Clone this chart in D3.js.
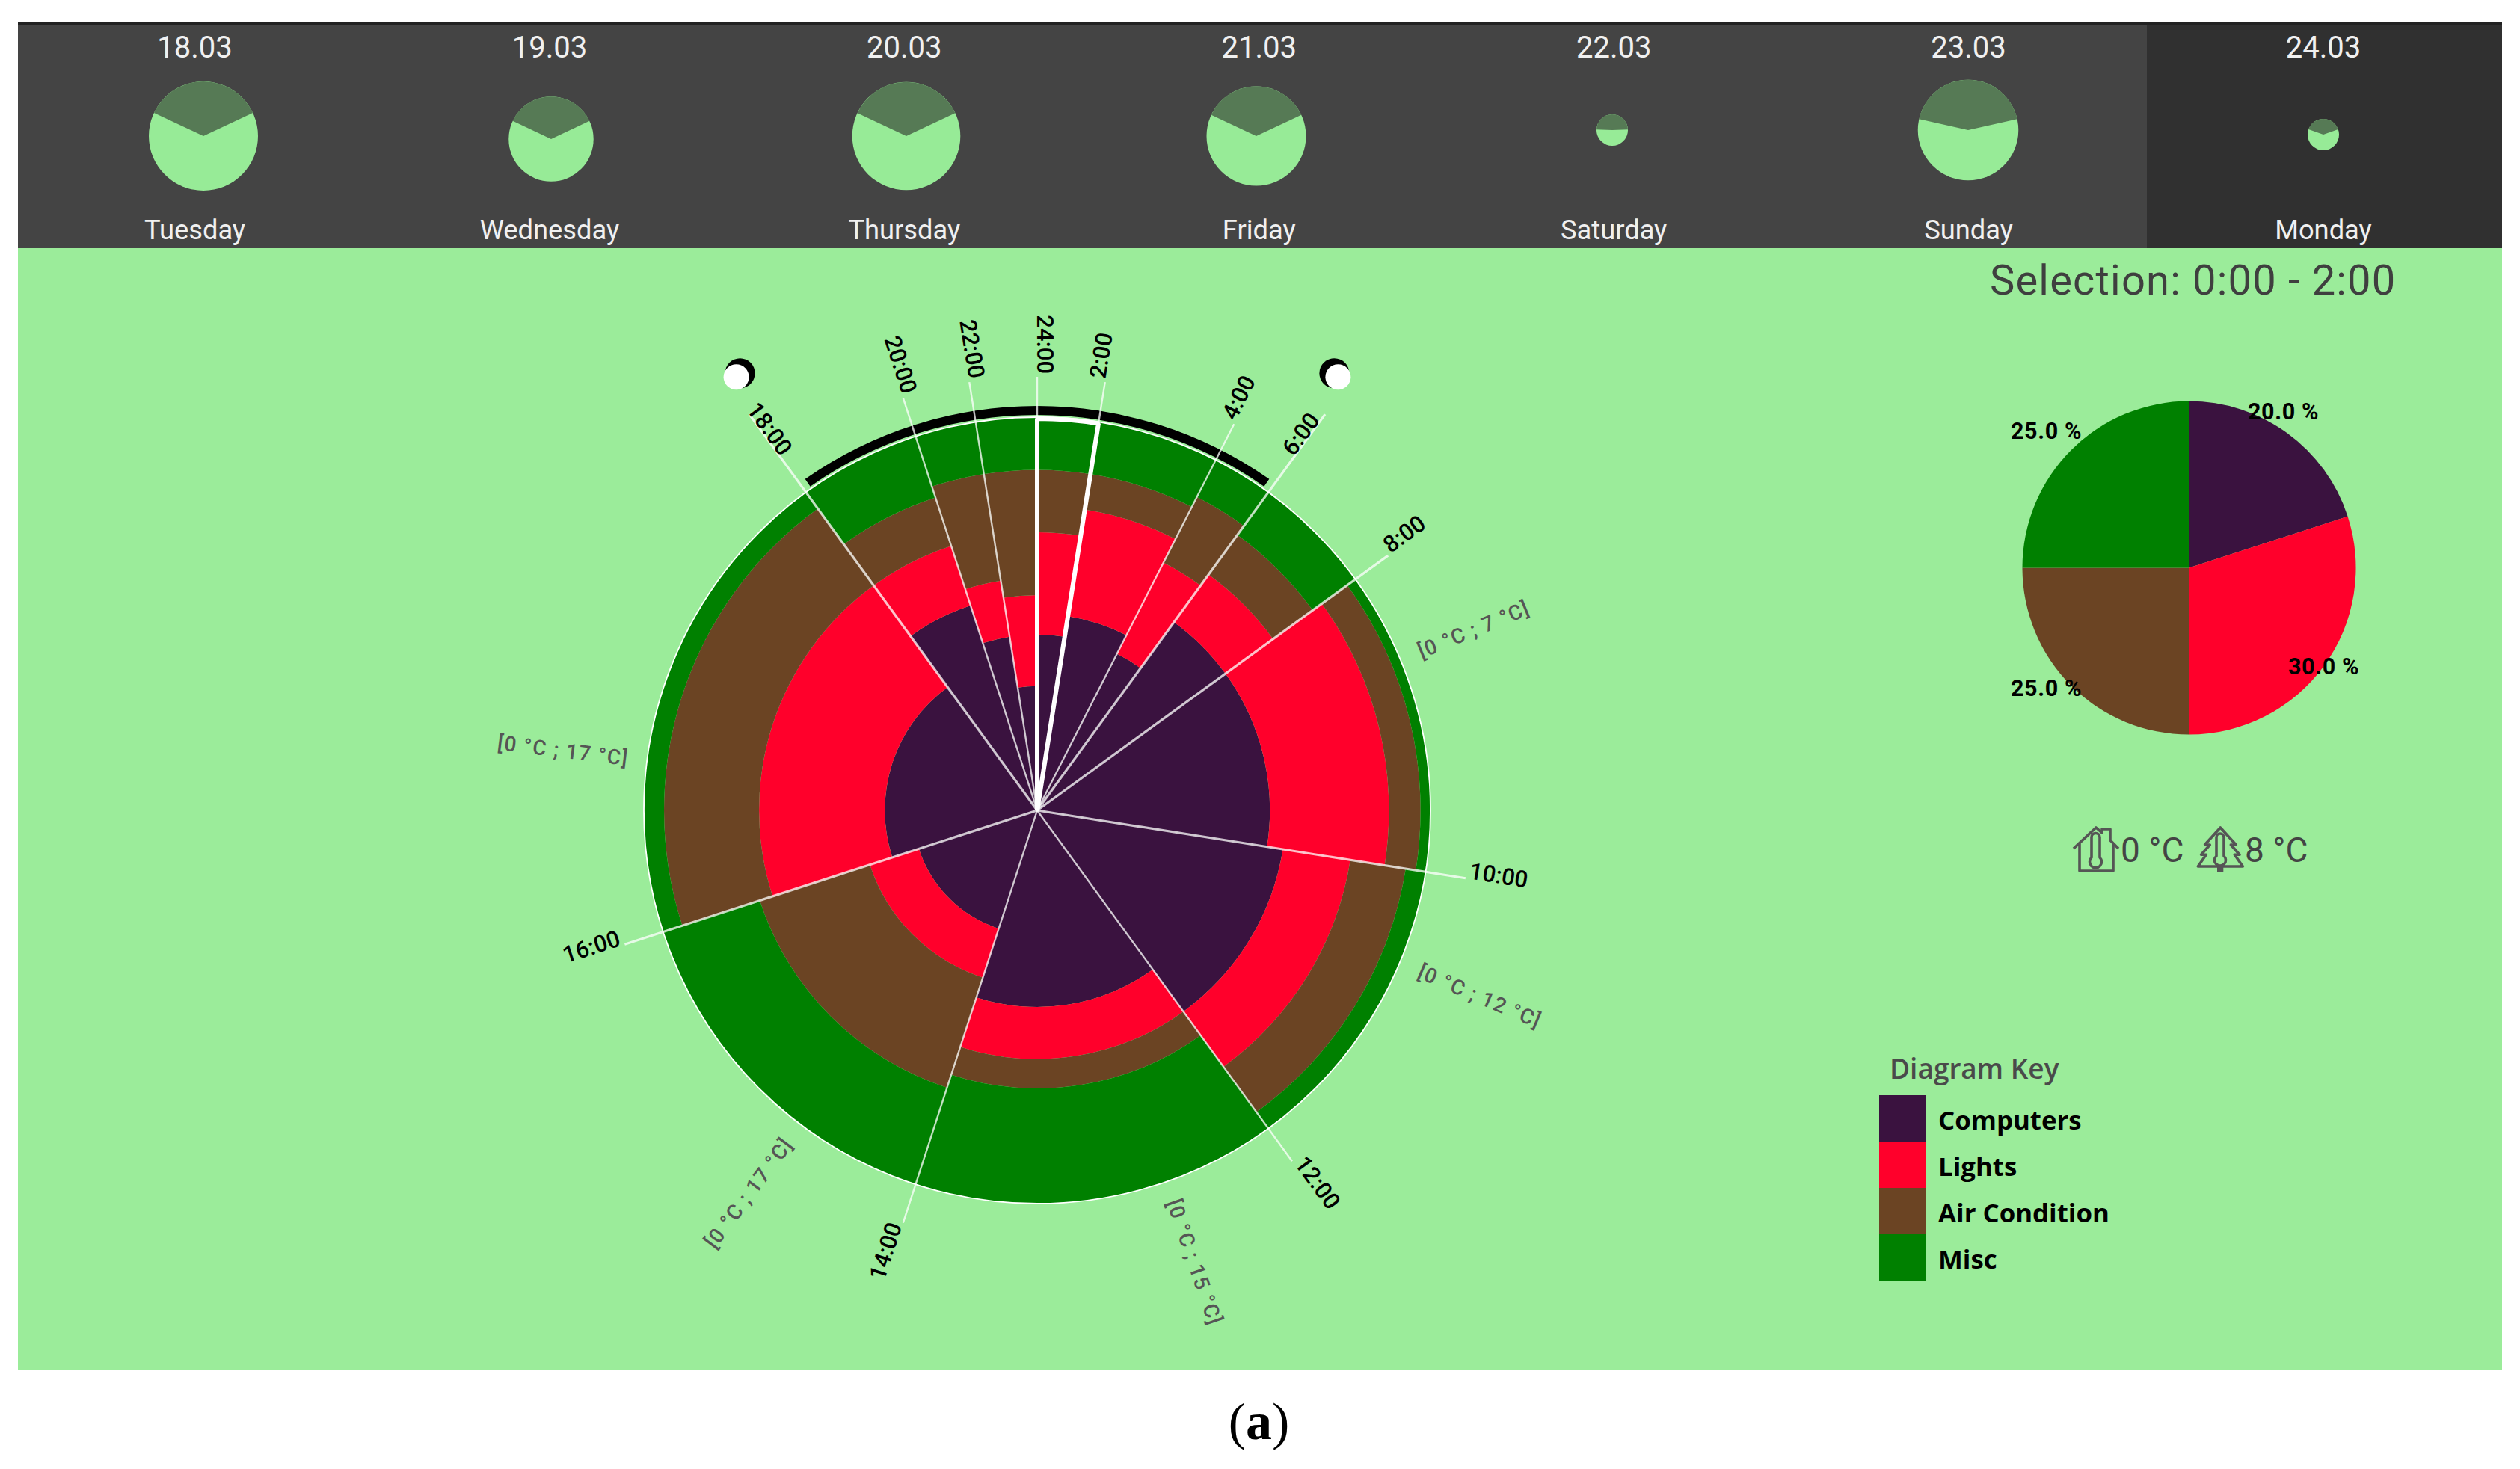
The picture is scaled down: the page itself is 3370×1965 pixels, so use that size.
<!DOCTYPE html>
<html>
<head>
<meta charset="utf-8">
<script src="https://cdn.jsdelivr.net/npm/d3@7/dist/d3.min.js"></script>
<style>
html,body{margin:0;padding:0;background:#fff;}
svg{display:block;}
text{font-family:Roboto,sans-serif;}
</style>
</head>
<body>
<svg id="chart" width="3370" height="1965"></svg>
<script>
// ---------- data ----------
const dayDates = ["18.03","19.03","20.03","21.03","22.03","23.03","24.03"];
const dayNames = ["Tuesday","Wednesday","Thursday","Friday","Saturday","Sunday","Monday"];
const dayTotals = [53,32,52,44,4.4,45,4.4];
const dayNightShare = [36,36,36,36,49,43,39];

const categories = ["Computers","Lights","Air Condition","Misc"];
const hourLabels = ["2:00","4:00","6:00","8:00","10:00","12:00","14:00","16:00","18:00","20:00","22:00","24:00"];
const periodShare = [1,2,1,2,5,5,6,6,8,2,1,1];
const computers = [20,25,20,35,35,40,25,10,15,30,20,10];
const lights    = [30,35,30,20,45,25,15,10,35,20,15,20];
const aircon    = [25,15,30,20,15,25,10,35,40,20,40,45];
const misc      = [25,25,20,25, 5,10,50,45,10,30,25,25];

const selectionLabel = "Selection: 0:00 - 2:00";
const selectionShares = [20,30,25,25];
const selectionPeriod = 0;
const indoorTemp = "0 °C";
const outdoorTemp = "8 °C";

const tempLabels = ["[0 °C ; 7 °C]","[0 °C ; 12 °C]","[0 °C ; 15 °C]","[0 °C ; 17 °C]","[0 °C ; 17 °C]"];
const legendTitle = "Diagram Key";
const caption = ["(","a",")"];

// ---------- layout and style ----------
const colors = ["#3a123f","#ff002b","#6b4423","#008000"];
const W = 3370, H = 1965;
const panel = {x:24, y:29, r:3346, b:1833, barB:332, selX:2871};
const bgGreen = "#9bec9a", barColor = "#444444", barSelected = "#303030";
const dayCx = [272,737,1212,1680,2156,2632,3107];
const dayCy = [182,186,182,182,174,174,180];
const dayTextX = d3.scaleLinear().domain([0,6]).range([260.5,3107]);
const cx = 1387, cy = 1084, R = 526, spokeR = 580, twilightR = 655;
const nightArcDeg = 35, moonDeg = 34.2, moonR = 707;
const tempTheta = [67.7,113,161,216.8,277];
const tempR = [632,642,640,641,639];
const pieCx = 2927.5, pieCy = 759.6, pieR = 223;
const pieLabelPos = [[3006,561],[3060,902],[2689,931],[2689,587]];
const toRad = d => d*Math.PI/180;

const svg = d3.select("#chart");
svg.append("rect").attr("width",W).attr("height",H).attr("fill","#fff");
svg.append("rect").attr("x",panel.x).attr("y",panel.y)
  .attr("width",panel.r-panel.x).attr("height",panel.b-panel.y).attr("fill",bgGreen);

// ---------- day strip ----------
const bar = svg.append("g");
bar.append("rect").attr("x",panel.x).attr("y",panel.y).attr("width",panel.r-panel.x)
  .attr("height",panel.barB-panel.y).attr("fill",barColor);
bar.append("rect").attr("x",panel.selX).attr("y",panel.y).attr("width",panel.r-panel.selX)
  .attr("height",panel.barB-panel.y).attr("fill",barSelected);
bar.append("rect").attr("x",panel.x).attr("y",panel.y).attr("width",panel.r-panel.x)
  .attr("height",4).attr("fill","#222");

const dayR = d3.scaleSqrt().domain([0,d3.max(dayTotals)]).range([0,73]);
dayDates.forEach((d,i)=>{
  const g = bar.append("g");
  g.append("text").attr("x",dayTextX(i)).attr("y",77).attr("text-anchor","middle")
    .attr("font-size",40).attr("fill","#f0f0f0").text(d);
  g.append("text").attr("x",dayTextX(i)).attr("y",320).attr("text-anchor","middle")
    .attr("font-size",36.3).attr("fill","#f0f0f0").text(dayNames[i]);
  const r = dayR(dayTotals[i]);
  const half = Math.PI*dayNightShare[i]/100;
  const pg = g.append("g").attr("transform",`translate(${dayCx[i]},${dayCy[i]})`);
  pg.append("circle").attr("r",r).attr("fill","#97eb97");
  pg.append("path").attr("d",d3.arc().innerRadius(0).outerRadius(r)({startAngle:-half,endAngle:half}))
    .attr("fill","#567a55");
});

// ---------- radial chart ----------
const pieGen = d3.pie().sort(null).value(d=>d);
const sectors = pieGen(periodShare);
const rScale = d3.scaleSqrt().domain([0,100]).range([0,R]);
const rows = periodShare.map((_,i)=>({c0:computers[i],c1:lights[i],c2:aircon[i],c3:misc[i]}));
const stacked = d3.stack().keys(["c0","c1","c2","c3"])(rows);
const chart = svg.append("g").attr("transform",`translate(${cx},${cy})`);
const arc = d3.arc();
stacked.forEach((layer,k)=>{
  chart.append("g").selectAll("path").data(layer).join("path")
    .attr("fill",colors[k])
    .attr("d",(d,i)=>arc({innerRadius:rScale(d[0]),outerRadius:rScale(d[1]),
      startAngle:sectors[i].startAngle,endAngle:sectors[i].endAngle}));
});
// outline circle
chart.append("circle").attr("r",R).attr("fill","none").attr("stroke","#fff").attr("stroke-width",1.8);

// night arc between sunset and sunrise
chart.append("path").attr("fill","#000")
  .attr("d",arc({innerRadius:R+3,outerRadius:R+15,startAngle:toRad(-nightArcDeg),endAngle:toRad(nightArcDeg)}));

// selected period: white outline along the wedge
const sel = sectors[selectionPeriod];
chart.append("path").attr("fill","none").attr("stroke","#fff").attr("stroke-width",6).attr("stroke-linejoin","bevel")
  .attr("d",arc({innerRadius:0,outerRadius:R-2,startAngle:sel.startAngle,endAngle:sel.endAngle}));

// spokes
const polar = (r,a)=>[r*Math.sin(a),-r*Math.cos(a)];
const isTwilight = i => i===2 || i===8;
chart.append("g").selectAll("line").data(sectors).join("line")
  .attr("x1",0).attr("y1",0)
  .attr("x2",(d,i)=>polar(isTwilight(i)?twilightR:spokeR,d.endAngle)[0])
  .attr("y2",(d,i)=>polar(isTwilight(i)?twilightR:spokeR,d.endAngle)[1])
  .attr("stroke","#fff")
  .attr("stroke-opacity",0.75)
  .attr("stroke-width",(d,i)=>(isTwilight(i)||[3,4,7].includes(i)?3.2:2.4));

// hour labels: baseline lies on the spoke
sectors.forEach((s,i)=>{
  const deg = s.endAngle*180/Math.PI;
  const [x,y] = polar(spokeR+4,s.endAngle);
  const right = deg<180;
  chart.append("text").attr("transform",`translate(${x},${y}) rotate(${right?deg-90:deg+90})`)
    .attr("text-anchor",right?"start":"end")
    .attr("font-size",31).attr("font-weight",500).attr("fill","#000").text(hourLabels[i]);
});

// temperature labels
tempLabels.forEach((t,i)=>{
  const th = tempTheta[i], right = th<180;
  const [x,y] = polar(tempR[i],toRad(th));
  chart.append("text").attr("transform",`translate(${x},${y}) rotate(${right?th-90:th+90})`)
    .attr("text-anchor","middle").attr("dominant-baseline","middle")
    .attr("font-size",28).attr("font-weight",500).attr("letter-spacing",1.5).attr("fill","#555").text(t);
});

// moon markers at sunset and sunrise
[-1,1].forEach(side=>{
  const [x,y] = polar(moonR,toRad(side*moonDeg));
  const m = chart.append("g").attr("transform",`translate(${x},${y})`);
  m.append("circle").attr("r",20).attr("fill","#000");
  m.append("circle").attr("r",17).attr("cx",side*5).attr("cy",5).attr("fill","#fff");
});

// ---------- selection pie ----------
svg.append("text").attr("x",2661).attr("y",394).attr("font-size",56).attr("letter-spacing",1.2)
  .attr("fill","#3f3f3f").text(selectionLabel);
const pg = svg.append("g").attr("transform",`translate(${pieCx},${pieCy})`);
pg.selectAll("path").data(pieGen(selectionShares)).join("path")
  .attr("fill",(d,i)=>colors[i])
  .attr("d",d3.arc().innerRadius(0).outerRadius(pieR));
selectionShares.forEach((v,i)=>{
  svg.append("text").attr("x",pieLabelPos[i][0]).attr("y",pieLabelPos[i][1])
    .attr("font-size",30.5).attr("font-weight",700).attr("letter-spacing",0.6).attr("fill","#000")
    .text(d3.format(".1f")(v)+" %");
});

// temperature readout with icons
const iconStroke = {fill:"none",stroke:"#555","stroke-width":3.6,"stroke-linejoin":"round"};
const applyIcon = s => Object.entries(iconStroke).forEach(([k,v])=>s.attr(k,v));
const house = svg.append("g").attr("transform","translate(2773,1105)");
applyIcon(house.append("path").attr("d","M0,30 L30,2 L38,9 V4 H49 V19 L60,30 M8,23 V60 H53 V23"));
applyIcon(house.append("path").attr("d","M24,42 V15 a5.5,5.5 0 0 1 11,0 V42 a8,8 0 1 1 -11,0 Z"));
svg.append("text").attr("x",2836).attr("y",1153).attr("font-size",46).attr("fill","#444").text(indoorTemp);
const tree = svg.append("g").attr("transform","translate(2939,1105)");
applyIcon(tree.append("path").attr("d","M30.3,2 L51,24.7 L44.3,25 L56,38.3 L49.3,38.3 L60.3,54 H0.3 L11.3,38.3 L4.6,38.3 L16.3,25 L9.6,24.7 Z"));
applyIcon(tree.append("path").attr("d","M25,40 V15 a5,5 0 0 1 10,0 V40 a7.5,7.5 0 1 1 -10,0 Z"));
tree.append("rect").attr("x",26).attr("y",54).attr("width",8.3).attr("height",7).attr("fill","#555");
svg.append("text").attr("x",3002).attr("y",1153).attr("font-size",46).attr("fill","#444").text(outdoorTemp);

// ---------- legend ----------
const legendY = d3.scaleBand().domain(categories).range([1465,1713]);
svg.append("text").attr("x",2527).attr("y",1443)
  .attr("font-size",37).attr("font-weight",600).attr("fill","#4a4a4a")
  .style("font-family","'Open Sans'").text(legendTitle);
const lg = svg.append("g").selectAll("g").data(categories).join("g");
lg.append("rect").attr("x",2513).attr("y",d=>legendY(d)).attr("width",62).attr("height",legendY.bandwidth())
  .attr("fill",(d,i)=>colors[i]);
lg.append("text").attr("x",2592).attr("y",d=>legendY(d)+46)
  .style("font-family","'Open Sans'").attr("font-size",34.8).attr("font-weight",700).attr("fill","#000").text(d=>d);

// ---------- caption ----------
const cap = svg.append("text").attr("x",1683.5).attr("y",1925).attr("text-anchor","middle")
  .style("font-family","'Liberation Serif'").attr("font-size",70).attr("fill","#000");
caption.forEach(c=>cap.append("tspan").attr("font-weight",c==="a"?700:400).text(c));
</script>
</body>
</html>
